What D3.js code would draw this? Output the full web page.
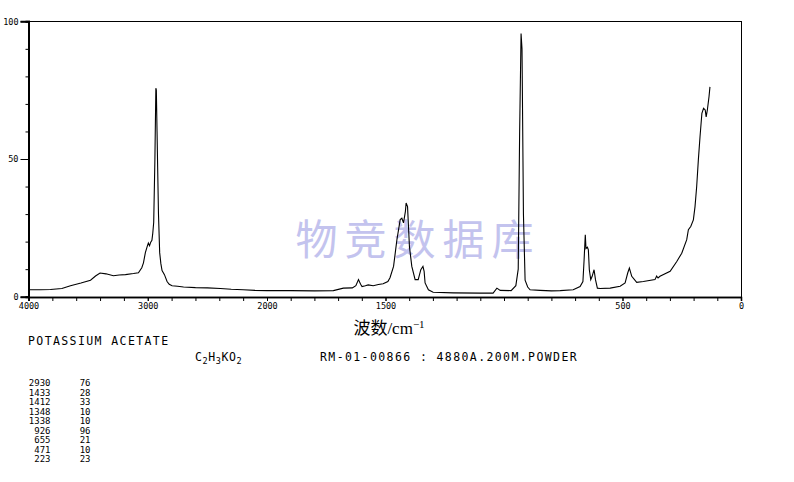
<!DOCTYPE html>
<html><head><meta charset="utf-8">
<script src="https://cdn.jsdelivr.net/npm/d3@7/dist/d3.min.js"></script>
<style>
body{margin:0;background:#fff;}
svg{display:block;}
.mono{font-family:"DejaVu Sans Mono",monospace;fill:#000;}
</style></head>
<body>
<script>
// ---- data ----
const wavenumbers = [4000,3900,3816,3720,3648,3560,3480,3438,3400,3350,3288,3240,3187,3120,3078,3050,3036,3020,3005,2995,2985,2975,2965,2958,2950,2940,2932,2928,2922,2917,2910,2900,2890,2880,2860,2838,2820,2796,2750,2700,2600,2500,2391,2300,2200,2100,2000,1900,1800,1720,1678,1640,1625,1614,1605,1599,1585,1573,1552,1530,1510,1490,1481,1466,1452,1438,1431,1424,1416,1413,1407,1399,1389,1375,1362,1351,1342,1337,1333,1319,1299,1214,1100,1046,1030,1016,970,950,940,934,928,924,918,911,900,890,848,800,763,708,679,667,662,657,654,648,644,640,634,628,620,614,606,595,552,510,489,478,471,461,440,412,363,356,350,342,299,271,250,229,222,212,201,194,187,180,173,165,158,151,147,142,135,131];
const intensities = [2.5,2.5,2.6,3.0,4.0,5.0,6.0,7.5,8.6,8.3,7.6,7.9,8.0,8.4,8.7,10.5,12.3,16,18.2,19.5,18.5,19.8,20.5,23,27,50,75.7,75,60,47,30,16,12,9.5,8,5.5,4.5,4.0,3.8,3.5,3.3,3.2,3.0,2.7,2.5,2.3,2.2,2.2,2.1,2.2,3.1,3.2,4.0,6.2,4.5,3.7,4.0,4.3,4.0,4.4,4.7,5.5,6.9,11,20.6,28,28.5,26.8,31,34,32.7,18.2,11,6.2,6.2,9.8,11,9.2,5,2.5,1.6,1.4,1.3,1.3,3.1,2.3,2.2,4,10,60,95.6,90,30,6,3.5,2.5,2.3,2.1,2.2,2.5,3.7,5.5,13.4,22.5,17.5,18,17,9.8,6.2,7.4,9.8,6.2,3.1,3.0,3.1,3.8,5,8.6,10.4,7.4,5.2,5.5,6.2,7.5,6.8,7.4,9.2,12.8,15.8,20.7,24.3,25.5,27.9,32.7,40,49.6,58,66.6,68.4,67.8,65.3,67.8,72.6,76.2];
const xTickLabels = [4000,3000,2000,1500,500,0];
const yTickLabels = [0,50,100];
const title = "POTASSIUM ACETATE";
const sampleInfo = "RM-01-00866 : 4880A.200M.POWDER";
const formulaParts = [["C",0],["2",1],["H",0],["3",1],["KO",0],["2",1]];
const peakWavenumbers = [2930,1433,1412,1348,1338,926,655,471,223];
const peakIntensities = [76,28,33,10,10,96,21,10,23];
const xLabel = "波数/cm";
const watermark = "物竞数据库";

// ---- drawing ----
const W=794,H=482;
const svg=d3.select("body").append("svg").attr("width",W).attr("height",H);
const x=d3.scaleLinear().domain([4000,2000,0]).range([28.5,267,741]);
const y=d3.scaleLinear().domain([0,100]).range([296.7,21.3]);

// watermark
svg.append("text").attr("x",418).attr("y",255).attr("text-anchor","middle")
  .style("font-family","'Noto Sans CJK SC',sans-serif").style("font-size","42px")
  .style("letter-spacing","7px").style("fill","#c3c3ee").text(watermark);

// frame
svg.append("line").attr("x1",x(4000)).attr("x2",x(0)).attr("y1",21.5).attr("y2",21.5).attr("stroke","#000");
svg.append("line").attr("x1",741.5).attr("x2",741.5).attr("y1",21).attr("y2",297).attr("stroke","#000");

// x minor ticks
const minor=[];
for(let v=4000;v>2000;v-=200)minor.push(v);
for(let v=2000;v>=0;v-=100)minor.push(v);
const xMinor=d3.axisBottom(x).tickValues(minor).tickSize(4).tickFormat("");
const gxm=svg.append("g").attr("transform","translate(0,297)").call(xMinor);
const xMajor=d3.axisBottom(x).tickValues(xTickLabels).tickSize(4).tickFormat(d3.format("d"));
const gx=svg.append("g").attr("transform","translate(0,297)").call(xMajor);
gx.selectAll("text").attr("class","mono").style("font-size","8.5px").attr("dy","0.4em").attr("y",9);
[gxm,gx].forEach(g=>{g.select(".domain").attr("stroke","#000").attr("stroke-width",1.3);g.selectAll("line").attr("stroke","#000");});

// y ticks
const yMinor=d3.axisLeft(y).tickValues(d3.range(0,101,10)).tickSize(3).tickFormat("");
const gym=svg.append("g").attr("transform","translate(28.5,0)").call(yMinor);
const yMajor=d3.axisLeft(y).tickValues(yTickLabels).tickSize(8).tickPadding(2).tickFormat(d3.format("d"));
const gy=svg.append("g").attr("transform","translate(28.5,0)").call(yMajor);
gy.selectAll("text").attr("class","mono").style("font-size","8.5px");
[gym,gy].forEach(g=>{g.select(".domain").attr("stroke","#000").attr("stroke-width",2);g.selectAll("line").attr("stroke","#000");});

// spectrum
const pts=wavenumbers.map((w,i)=>[w,intensities[i]]);
svg.append("path").datum(pts)
  .attr("d",d3.line().x(d=>x(d[0])).y(d=>y(d[1])))
  .attr("fill","none").attr("stroke","#000").attr("stroke-width",1.1);

// axis label
const xl=svg.append("text").attr("x",389).attr("y",334).attr("text-anchor","middle")
  .style("font-family","'Liberation Serif','Noto Sans CJK SC',serif").style("font-size","17px").style("fill","#000");
xl.append("tspan").text(xLabel);
xl.append("tspan").attr("dy","-6").style("font-size","11px").text("−1");

// texts
svg.append("text").attr("class","mono").attr("x",28).attr("y",345).style("font-size","11.5px").style("letter-spacing","1.4px").text(title);
const f=svg.append("text").attr("class","mono").attr("x",195).attr("y",361).style("font-size","11.5px").style("letter-spacing","0.6px");
let prevSub=false;
formulaParts.forEach(([t,s])=>{
  const dy = s ? 3 : (prevSub ? -3 : 0);
  f.append("tspan").style("font-size",s?"8.5px":"11.5px").attr("dy",dy).text(t);
  prevSub=!!s;
});
svg.append("text").attr("class","mono").attr("x",320).attr("y",361).style("font-size","11.5px").style("letter-spacing","1.4px").text(sampleInfo);

// peak table
const tbl=svg.append("g");
tbl.selectAll("text.pw").data(peakWavenumbers).join("text").attr("class","mono pw")
  .attr("x",50.5).attr("y",(d,i)=>386+i*9.5).attr("text-anchor","end").style("font-size","9px").text(d=>d);
tbl.selectAll("text.pi").data(peakIntensities).join("text").attr("class","mono pi")
  .attr("x",90.5).attr("y",(d,i)=>386+i*9.5).attr("text-anchor","end").style("font-size","9px").text(d=>d);
</script>
</body></html>
